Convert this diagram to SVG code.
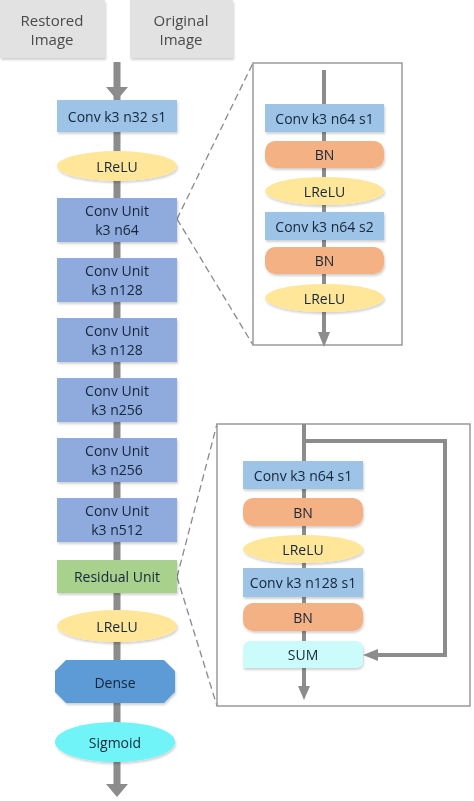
<svg xmlns="http://www.w3.org/2000/svg" width="474" height="801" viewBox="0 0 474 801">
<defs>
<style>
text{font-family:"Open Sans","Liberation Sans",sans-serif;font-size:14px;fill:#15253a;text-anchor:middle;dominant-baseline:central}
.grey{fill:#4a4a4a;font-size:15px}
.conv{fill:#9dc3e6}
.unit{fill:#8faadc}
.lrelu{fill:#ffe699}
.bn{fill:#f4b183}
.res{fill:#a9d18e}
.dense{fill:#5b9bd5}
.sig{fill:#70f4f8}
.sum{fill:#ccfbfc}
.top{fill:#e2e2e2}
.wire{stroke:#8c8c8c;fill:none}
.head{fill:#8c8c8c}
.dash{stroke:#8a8a8a;stroke-width:1.3;stroke-dasharray:7 4;fill:none}
.panel{fill:#fff;stroke:#9a9a9a;stroke-width:1.5}
</style>
<filter id="sh" x="-10%" y="-10%" width="130%" height="140%">
<feDropShadow dx="1" dy="2" stdDeviation="1" flood-color="#000" flood-opacity="0.18"/>
</filter>
</defs>

<g id="connectors">
<line class="wire" x1="117" y1="62" x2="117" y2="786" stroke-width="7"/>
<polygon class="head" points="106,87 128,87 117,100"/>
<polygon class="head" points="106,784 128,784 117,797"/>
<path class="dash" d="M177 219 L253 63 M177 219 L253 345"/>
<path class="dash" d="M177 577 L217 424 M177 577 L217 706"/>
</g>

<g id="panel-conv-unit">
<rect class="panel" x="253" y="63" width="149" height="282"/>
<line class="wire" x1="324" y1="70" x2="324" y2="336" stroke-width="4"/>
<polygon class="head" points="318,332 330,332 324,347"/>
</g>

<g id="panel-residual">
<rect class="panel" x="217" y="424" width="253" height="282"/>
<line class="wire" x1="304" y1="424" x2="304" y2="690" stroke-width="4"/>
<polygon class="head" points="298,686 310,686 304,700"/>
<path class="wire" d="M302 441 H445 V655 H376" stroke-width="4"/>
<polygon class="head" points="363,655 378,649 378,661"/>
</g>

<g id="restored-image" filter="url(#sh)">
<rect class="top" x="0" y="0" width="105" height="58"/>
<text class="grey" x="52" y="20">Restored</text>
<text class="grey" x="52" y="39">Image</text>
</g>
<g id="original-image" filter="url(#sh)">
<rect class="top" x="130" y="0" width="103" height="58"/>
<text class="grey" x="181" y="20">Original</text>
<text class="grey" x="181" y="39">Image</text>
</g>

<g id="conv-k3-n32-s1" filter="url(#sh)">
<rect class="conv" x="57" y="100" width="120" height="32"/>
<text x="117" y="116">Conv k3 n32 s1</text>
</g>
<g id="lrelu-1" filter="url(#sh)">
<ellipse class="lrelu" cx="117" cy="166" rx="60" ry="15"/>
<text x="117" y="166">LReLU</text>
</g>
<g id="conv-unit-64" filter="url(#sh)">
<rect class="unit" x="57" y="198" width="120" height="44"/>
<text x="117" y="210">Conv Unit</text>
<text x="117" y="229">k3 n64</text>
</g>
<g id="conv-unit-128a" filter="url(#sh)">
<rect class="unit" x="57" y="258" width="120" height="44"/>
<text x="117" y="270">Conv Unit</text>
<text x="117" y="289">k3 n128</text>
</g>
<g id="conv-unit-128b" filter="url(#sh)">
<rect class="unit" x="57" y="318" width="120" height="44"/>
<text x="117" y="330">Conv Unit</text>
<text x="117" y="349">k3 n128</text>
</g>
<g id="conv-unit-256a" filter="url(#sh)">
<rect class="unit" x="57" y="378" width="120" height="44"/>
<text x="117" y="390">Conv Unit</text>
<text x="117" y="409">k3 n256</text>
</g>
<g id="conv-unit-256b" filter="url(#sh)">
<rect class="unit" x="57" y="438" width="120" height="44"/>
<text x="117" y="450">Conv Unit</text>
<text x="117" y="469">k3 n256</text>
</g>
<g id="conv-unit-512" filter="url(#sh)">
<rect class="unit" x="57" y="498" width="120" height="44"/>
<text x="117" y="510">Conv Unit</text>
<text x="117" y="529">k3 n512</text>
</g>
<g id="residual-unit" filter="url(#sh)">
<rect class="res" x="57" y="560" width="120" height="33"/>
<text x="117" y="576">Residual Unit</text>
</g>
<g id="lrelu-2" filter="url(#sh)">
<ellipse class="lrelu" cx="117" cy="626" rx="60" ry="16"/>
<text x="117" y="626">LReLU</text>
</g>
<g id="dense" filter="url(#sh)">
<polygon class="dense" points="66,660 164,660 175,671 175,692 164,703 66,703 55,692 55,671"/>
<text x="115" y="682">Dense</text>
</g>
<g id="sigmoid" filter="url(#sh)">
<ellipse class="sig" cx="115" cy="742" rx="60" ry="20"/>
<text x="115" y="742">Sigmoid</text>
</g>

<g id="cu-conv-s1" filter="url(#sh)">
<rect class="conv" x="265" y="104" width="119" height="28"/>
<text x="324.5" y="118">Conv k3 n64 s1</text>
</g>
<g id="cu-bn-1" filter="url(#sh)">
<rect class="bn" x="265" y="141" width="119" height="27" rx="10"/>
<text x="324.5" y="154.5">BN</text>
</g>
<g id="cu-lrelu-1" filter="url(#sh)">
<ellipse class="lrelu" cx="324.5" cy="191" rx="59.5" ry="14"/>
<text x="324.5" y="191">LReLU</text>
</g>
<g id="cu-conv-s2" filter="url(#sh)">
<rect class="conv" x="265" y="212" width="119" height="28"/>
<text x="324.5" y="226">Conv k3 n64 s2</text>
</g>
<g id="cu-bn-2" filter="url(#sh)">
<rect class="bn" x="265" y="247" width="119" height="27" rx="10"/>
<text x="324.5" y="260.5">BN</text>
</g>
<g id="cu-lrelu-2" filter="url(#sh)">
<ellipse class="lrelu" cx="324.5" cy="298" rx="59.5" ry="14"/>
<text x="324.5" y="298">LReLU</text>
</g>

<g id="ru-conv-64" filter="url(#sh)">
<rect class="conv" x="243" y="461" width="120" height="28"/>
<text x="303" y="475">Conv k3 n64 s1</text>
</g>
<g id="ru-bn-1" filter="url(#sh)">
<rect class="bn" x="243" y="498" width="120" height="28" rx="10"/>
<text x="303" y="512">BN</text>
</g>
<g id="ru-lrelu" filter="url(#sh)">
<ellipse class="lrelu" cx="303" cy="549" rx="60" ry="14"/>
<text x="303" y="549">LReLU</text>
</g>
<g id="ru-conv-128" filter="url(#sh)">
<rect class="conv" x="243" y="568" width="120" height="29"/>
<text x="303" y="582.5">Conv k3 n128 s1</text>
</g>
<g id="ru-bn-2" filter="url(#sh)">
<rect class="bn" x="243" y="603" width="120" height="28" rx="10"/>
<text x="303" y="617">BN</text>
</g>
<g id="ru-sum" filter="url(#sh)">
<path class="sum" d="M251 641 H355 Q363 641 363 649 V660 Q363 668 355 668 H243 V649 Q243 641 251 641 Z"/>
<text x="303" y="654.5">SUM</text>
</g>
</svg>
